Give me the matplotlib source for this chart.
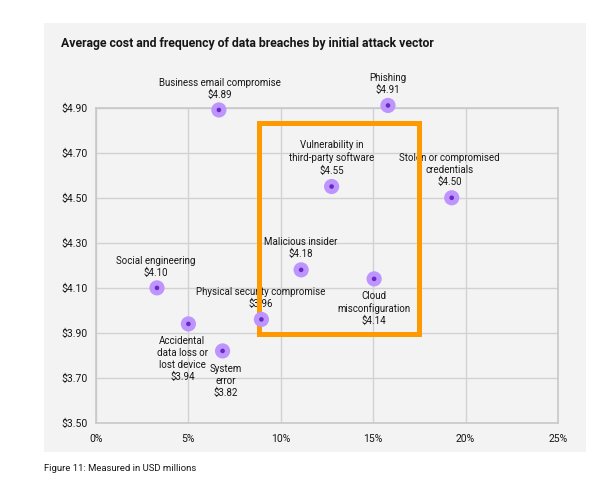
import matplotlib
matplotlib.use("Agg")
import matplotlib.pyplot as plt
from matplotlib.patches import Rectangle

plt.rcParams['font.family'] = ['Roboto', 'DejaVu Sans']

# ---- data ----
vectors = [
    "Business email compromise", "Phishing", "Vulnerability in\nthird-party software",
    "Stolen or compromised\ncredentials", "Malicious insider", "Cloud\nmisconfiguration",
    "Social engineering", "Accidental\ndata loss or\nlost device", "System\nerror",
    "Physical security compromise",
]
frequency_pct = [6.65, 15.8, 12.75, 19.25, 11.1, 15.05, 3.3, 5.0, 6.85, 8.95]
avg_cost = [4.89, 4.91, 4.55, 4.50, 4.18, 4.14, 4.10, 3.94, 3.82, 3.96]
x_ticks = [0, 5, 10, 15, 20, 25]
x_ticklabels = ["0%", "5%", "10%", "15%", "20%", "25%"]
y_ticks = [3.5, 3.7, 3.9, 4.1, 4.3, 4.5, 4.7, 4.9]
y_ticklabels = ["$3.50", "$3.70", "$3.90", "$4.10", "$4.30", "$4.50", "$4.70", "$4.90"]
highlight_x = [8.83, 17.5]
highlight_y = [3.894, 4.83]

# label layout: (dx px, dy px, va)
label_layout = [
    (1, 10, 'bottom'), (0, 10, 'bottom'), (0, 11, 'bottom'), (-2, 11, 'bottom'),
    (0, 11, 'bottom'), (0, -12, 'top'), (-1, 10, 'bottom'), (-6, -12, 'top'),
    (3, -13, 'top'), (-1, 10, 'bottom'),
]

W, H = 597, 498
fig = plt.figure(figsize=(W / 100, H / 100), dpi=100)
fig.patch.set_facecolor('white')

# grey panel
fig.add_artist(Rectangle((44 / W, 1 - 452 / H), (586 - 44) / W, (452 - 23) / H,
                         transform=fig.transFigure, facecolor='#f3f3f3',
                         edgecolor='none', zorder=0))

ax = fig.add_axes([96 / W, 1 - 423 / H, (558 - 96) / W, (423 - 107.7) / H])
ax.set_facecolor('none')
ax.set_xlim(0, 25)
ax.set_ylim(3.5, 4.9)
ax.set_xticks(x_ticks)
ax.set_xticklabels(x_ticklabels)
ax.set_yticks(y_ticks)
ax.set_yticklabels(y_ticklabels)
ax.tick_params(length=0, labelsize=7.5, colors='#161616', pad=6)
ax.tick_params(axis='x', pad=8)
ax.grid(True, color='#d2d2d6', linewidth=1.0)
ax.set_axisbelow(True)
for s in ax.spines.values():
    s.set_color('#c8c8cc')
    s.set_linewidth(1.2)

ax.scatter(frequency_pct, avg_cost, s=120, color='#be95ff', edgecolor='none',
           zorder=5, clip_on=False)
ax.scatter(frequency_pct, avg_cost, s=11, color='#6929c4', edgecolor='none',
           zorder=6, clip_on=False)

for name, xv, yv, (dx, dy, va) in zip(vectors, frequency_pct, avg_cost, label_layout):
    ax.annotate(f"{name}\n${yv:.2f}", (xv, yv), xytext=(dx, dy),
                textcoords='offset pixels', ha='center', va=va,
                fontsize=7.0, color='#161616', linespacing=1.25,
                multialignment='center', zorder=3, annotation_clip=False)

ax.add_patch(Rectangle((highlight_x[0], highlight_y[0]),
                       highlight_x[1] - highlight_x[0], highlight_y[1] - highlight_y[0],
                       fill=False, edgecolor='#ff9900', linewidth=3.6, zorder=4,
                       clip_on=False))

fig.text(61 / W, 1 - 44 / H, "Average cost and frequency of data breaches by initial attack vector",
         fontsize=8.8, fontweight='bold', color='#161616', va='center', ha='left')
fig.text(44 / W, 1 - 468 / H, "Figure 11: Measured in USD millions",
         fontsize=6.8, color='#161616', va='center', ha='left')

fig.savefig("out.png", dpi=100)
